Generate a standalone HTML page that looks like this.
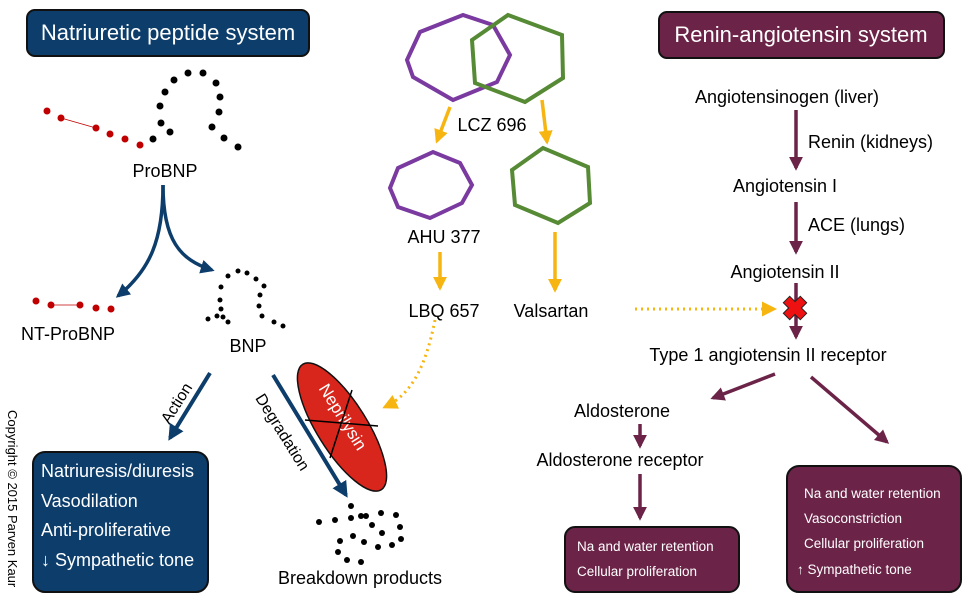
<!DOCTYPE html>
<html><head><meta charset="utf-8"><style>
html,body{margin:0;padding:0;background:#fff}
svg{display:block}
text{font-family:"Liberation Sans",Arial,sans-serif}
</style></head><body>
<svg width="972" height="604" viewBox="0 0 972 604" xmlns="http://www.w3.org/2000/svg">
<defs>
<marker id="ab" viewBox="0 0 10 10" refX="8" refY="5" markerWidth="4" markerHeight="4" orient="auto"><path d="M0,0 L10,5 L0,10 z" fill="#0c3d6b"/></marker>
<marker id="ap" viewBox="0 0 10 10" refX="8" refY="5" markerWidth="4" markerHeight="4" orient="auto"><path d="M0,0 L10,5 L0,10 z" fill="#6b2448"/></marker>
<marker id="ay" viewBox="0 0 10 10" refX="8" refY="5" markerWidth="4" markerHeight="4" orient="auto"><path d="M0,0 L10,5 L0,10 z" fill="#f6b510"/></marker>
<marker id="ay2" viewBox="0 0 10 10" refX="8" refY="5" markerWidth="5" markerHeight="5" orient="auto"><path d="M0,0 L10,5 L0,10 z" fill="#f6b510"/></marker>
</defs>

<rect x="27" y="10" width="282" height="46" rx="8" fill="#0c3d6b" stroke="#111" stroke-width="2"/>
<text x="168" y="40" font-size="22" fill="#fff" text-anchor="middle">Natriuretic peptide system</text>
<rect x="659" y="12" width="285" height="46" rx="8" fill="#6b2448" stroke="#111" stroke-width="2"/>
<text x="801" y="42" font-size="22" fill="#fff" text-anchor="middle">Renin-angiotensin system</text>

<g fill="#c00000">
<circle cx="47" cy="111" r="3.5"/><circle cx="61" cy="118" r="3.5"/><circle cx="96" cy="128" r="3.5"/><circle cx="110" cy="134" r="3.5"/><circle cx="125" cy="139" r="3.5"/><circle cx="140" cy="145" r="3.5"/>
<circle cx="36" cy="301" r="3.5"/><circle cx="51" cy="305" r="3.5"/><circle cx="80" cy="305" r="3.5"/><circle cx="96" cy="308" r="3.5"/><circle cx="111" cy="309" r="3.5"/>
</g>
<line x1="61" y1="118" x2="96" y2="128" stroke="#c00000" stroke-width="0.8"/>
<line x1="51" y1="305" x2="80" y2="305" stroke="#c00000" stroke-width="0.8"/>
<g fill="#000">
<circle cx="153" cy="139" r="3.5"/><circle cx="170" cy="132" r="3.5"/><circle cx="161" cy="123" r="3.5"/><circle cx="160" cy="106" r="3.5"/><circle cx="165" cy="92" r="3.5"/><circle cx="174" cy="80" r="3.5"/><circle cx="188" cy="73" r="3.5"/><circle cx="203" cy="73" r="3.5"/><circle cx="216" cy="83" r="3.5"/><circle cx="220" cy="97" r="3.5"/><circle cx="219" cy="112" r="3.5"/><circle cx="212" cy="127" r="3.5"/><circle cx="224" cy="138" r="3.5"/><circle cx="238" cy="147" r="3.5"/>
<circle cx="208" cy="319" r="2.5"/><circle cx="217" cy="316" r="2.5"/><circle cx="228" cy="322" r="2.5"/><circle cx="223" cy="317" r="2.5"/><circle cx="220" cy="300" r="2.5"/><circle cx="221" cy="287" r="2.5"/><circle cx="228" cy="276" r="2.5"/><circle cx="238" cy="271" r="2.5"/><circle cx="247" cy="273" r="2.5"/><circle cx="256" cy="279" r="2.5"/><circle cx="260" cy="295" r="2.5"/><circle cx="259" cy="306" r="2.5"/><circle cx="262" cy="316" r="2.5"/><circle cx="274" cy="322" r="2.5"/><circle cx="283" cy="326" r="2.5"/><circle cx="264" cy="286" r="2.5"/><circle cx="221" cy="309" r="2.5"/>
</g>
<text x="165" y="177" font-size="18" text-anchor="middle">ProBNP</text>
<text x="68" y="340" font-size="18" text-anchor="middle">NT-ProBNP</text>
<text x="248" y="352" font-size="18" text-anchor="middle">BNP</text>
<path d="M163,185 C163,240 150,270 118,296" fill="none" stroke="#0c3d6b" stroke-width="3.5" marker-end="url(#ab)"/>
<path d="M163,185 C163,240 180,260 212,270" fill="none" stroke="#0c3d6b" stroke-width="3.5" marker-end="url(#ab)"/>

<line x1="210" y1="373" x2="170" y2="438" stroke="#0c3d6b" stroke-width="4" marker-end="url(#ab)"/>
<text transform="translate(181,406) rotate(-58)" font-size="16" text-anchor="middle">Action</text>
<rect x="33" y="452" width="175" height="140" rx="12" fill="#0c3d6b" stroke="#111" stroke-width="2"/>
<g fill="#fff" font-size="18">
<text x="41" y="477">Natriuresis/diuresis</text>
<text x="41" y="507">Vasodilation</text>
<text x="41" y="536">Anti-proliferative</text>
<text x="41" y="566">↓ Sympathetic tone</text>
</g>
<text transform="translate(8,410) rotate(90)" font-size="13">Copyright © 2015 Parven Kaur</text>

<line x1="273" y1="375" x2="346" y2="495" stroke="#0c3d6b" stroke-width="4" marker-end="url(#ab)"/>
<text transform="translate(278,435) rotate(58)" font-size="16" text-anchor="middle">Degradation</text>
<ellipse cx="342" cy="427" rx="74" ry="25" transform="rotate(58 342 427)" fill="#d9261c" stroke="#111" stroke-width="1.5"/>
<text transform="translate(338,420) rotate(58)" font-size="17" fill="#fff" text-anchor="middle">Neprilysin</text>
<line x1="305" y1="420" x2="378" y2="426" stroke="#000" stroke-width="1.5"/>
<line x1="352" y1="390" x2="330" y2="458" stroke="#000" stroke-width="1.5"/>
<path d="M435,320 C425,370 410,395 385,407" fill="none" stroke="#f6b510" stroke-width="3" stroke-dasharray="2,4" marker-end="url(#ay2)"/>
<g fill="#000">
<circle cx="351" cy="506" r="3"/><circle cx="319" cy="522" r="3"/><circle cx="335" cy="520" r="3"/><circle cx="351" cy="518" r="3"/><circle cx="361" cy="516" r="3"/><circle cx="366" cy="516" r="3"/><circle cx="381" cy="513" r="3"/><circle cx="396" cy="515" r="3"/><circle cx="372" cy="525" r="3"/><circle cx="400" cy="527" r="3"/><circle cx="353" cy="536" r="3"/><circle cx="382" cy="533" r="3"/><circle cx="340" cy="541" r="3"/><circle cx="364" cy="542" r="3"/><circle cx="392" cy="545" r="3"/><circle cx="401" cy="539" r="3"/><circle cx="378" cy="547" r="3"/><circle cx="338" cy="552" r="3"/><circle cx="347" cy="560" r="3"/><circle cx="361" cy="562" r="3"/>
</g>
<text x="360" y="584" font-size="18" text-anchor="middle">Breakdown products</text>

<polygon points="407,60 420,32 463,15 493,25 510,55 497,82 453,100 413,77" fill="none" stroke="#7a3aa0" stroke-width="4"/>
<polygon points="472,40 508,15 562,35 563,78 525,102 475,83" fill="none" stroke="#568a35" stroke-width="4"/>
<polygon points="390,188 398,168 433,152 460,163 472,185 462,203 430,218 398,207" fill="none" stroke="#7a3aa0" stroke-width="4"/>
<polygon points="512,170 543,148 588,167 590,203 558,223 515,205" fill="none" stroke="#568a35" stroke-width="4"/>
<g stroke="#f6b510" stroke-width="3.5">
<line x1="450" y1="107" x2="437" y2="141" marker-end="url(#ay)"/>
<line x1="542" y1="100" x2="547" y2="142" marker-end="url(#ay)"/>
<line x1="440" y1="252" x2="440" y2="288" marker-end="url(#ay)"/>
<line x1="555" y1="232" x2="555" y2="290" marker-end="url(#ay)"/>
</g>
<g font-size="18" text-anchor="middle">
<text x="492" y="131">LCZ 696</text>
<text x="444" y="243">AHU 377</text>
<text x="444" y="317">LBQ 657</text>
<text x="551" y="317">Valsartan</text>
</g>
<line x1="635" y1="309" x2="774" y2="309" stroke="#f6b510" stroke-width="3" stroke-dasharray="2,4" marker-end="url(#ay2)"/>

<g font-size="18">
<text x="787" y="103" text-anchor="middle">Angiotensinogen (liver)</text>
<text x="808" y="148">Renin (kidneys)</text>
<text x="785" y="192" text-anchor="middle">Angiotensin I</text>
<text x="808" y="231">ACE (lungs)</text>
<text x="785" y="278" text-anchor="middle">Angiotensin II</text>
<text x="768" y="361" text-anchor="middle">Type 1 angiotensin II receptor</text>
<text x="622" y="417" text-anchor="middle">Aldosterone</text>
<text x="620" y="466" text-anchor="middle">Aldosterone receptor</text>
</g>
<g stroke="#6b2448" stroke-width="3.5">
<line x1="796" y1="110" x2="796" y2="168" marker-end="url(#ap)"/>
<line x1="796" y1="202" x2="796" y2="252" marker-end="url(#ap)"/>
<line x1="796" y1="283" x2="796" y2="337" marker-end="url(#ap)"/>
<line x1="775" y1="374" x2="713" y2="398" marker-end="url(#ap)"/>
<line x1="811" y1="377" x2="887" y2="442" marker-end="url(#ap)"/>
<line x1="640" y1="424" x2="640" y2="446" marker-end="url(#ap)"/>
<line x1="640" y1="474" x2="640" y2="518" marker-end="url(#ap)"/>
</g>
<g transform="translate(795,308) rotate(45)">
<rect x="-12" y="-4.5" width="24" height="9" fill="#ee1111" stroke="#222" stroke-width="1"/>
<rect x="-4.5" y="-12" width="9" height="24" fill="#ee1111" stroke="#222" stroke-width="1"/>
<rect x="-11.5" y="-4" width="23" height="8" fill="#ee1111"/>
</g>
<rect x="565" y="527" width="174" height="65" rx="10" fill="#6b2448" stroke="#111" stroke-width="2"/>
<g fill="#fff" font-size="13.5">
<text x="577" y="551">Na and water retention</text>
<text x="577" y="576">Cellular proliferation</text>
</g>
<rect x="787" y="466" width="174" height="126" rx="12" fill="#6b2448" stroke="#111" stroke-width="2"/>
<g fill="#fff" font-size="13.5">
<text x="804" y="498">Na and water retention</text>
<text x="804" y="523">Vasoconstriction</text>
<text x="804" y="548">Cellular proliferation</text>
<text x="797" y="574">↑ Sympathetic tone</text>
</g>
</svg>
</body></html>
